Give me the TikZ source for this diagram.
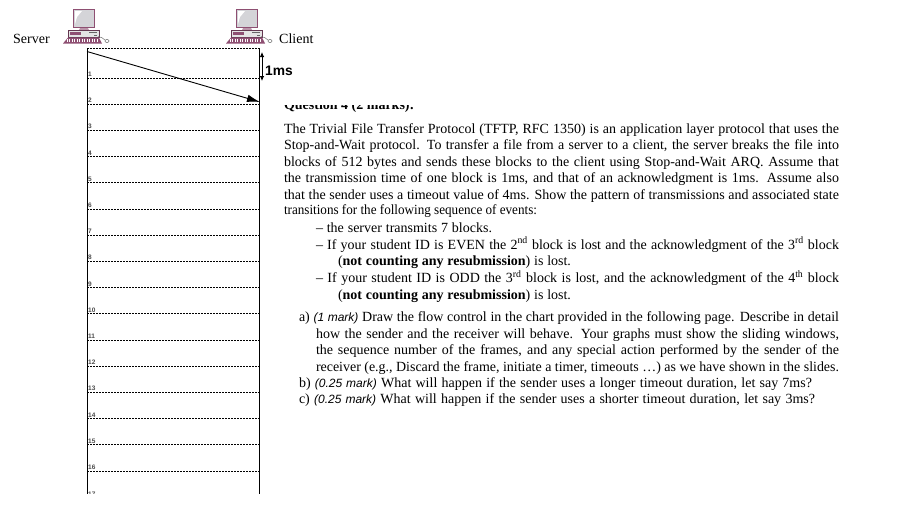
\documentclass[tikz,border=0pt]{standalone}
\usepackage{fontspec}
\setmainfont{Liberation Serif}
\setsansfont{Liberation Sans}
\usetikzlibrary{arrows.meta}
\definecolor{plum}{HTML}{8E4F72}
\definecolor{screen}{HTML}{D4D4D8}
\definecolor{casing}{HTML}{E4E4E4}
\tikzset{
  x=1pt,y=-1pt,
  body/.style={font=\fontsize{14}{16}\selectfont,anchor=base west,inner sep=0pt,outer sep=0pt},
  actor/.style={font=\fontsize{14}{16}\selectfont,anchor=base west,inner sep=0pt},
  tick/.style={font=\sffamily\bfseries\fontsize{6.5}{7}\selectfont,text=black!70,anchor=base west,inner sep=0pt},
  lifeline/.style={line width=0.9pt},
  gridline/.style={line width=0.8pt,dash pattern=on 1.7pt off 1.3pt},
  pics/pc/.style={code={
    \fill[plum] (0,0) -- (22,0) -- (22,19) -- (0,19) -- cycle;
    \fill[screen] (1.4,1.4) -- (20.6,1.4) -- (20.6,17.6) -- (1.4,17.6) -- cycle;
    \fill[white] (2,2) -- (9,2) -- (4,8) -- (2,15) -- cycle;
    \fill[plum!60] (7,19) -- (15,19) -- (16,21) -- (6,21) -- cycle;
    \draw[plum!70!black,fill=casing,line width=0.4pt] (-5,21) -- (26,21) -- (26,28.5) -- (-5,28.5) -- cycle;
    \fill[plum] (-3,23) -- (8,23) -- (8,25.5) -- (-3,25.5) -- cycle;
    \fill[black!60] (16,23) -- (24,23) -- (24,24) -- (16,24) -- cycle;
    \fill[black!60] (21,26) -- (24,26) -- (24,27) -- (21,27) -- cycle;
    \fill[plum] (-10,34.5) -- (-5,28.5) -- (26,28.5) -- (29,34.5) -- cycle;
    \foreach \k in {-6,-3.5,...,25}{\draw[white,line width=0.35pt] (\k,29.5) -- (\k,33);}
    \draw[black!55,line width=0.5pt] (25,27.5) .. controls (28,28) and (30,29) .. (32,31);
    \draw[black!60,fill=white,line width=0.5pt] (34,32) ellipse (2 and 1.5);
  }}
}
\newsavebox{\linebox}
% line of a fixed width: spaces stretch when it is short, glyphs narrow when it is long
\newcommand{\jline}[5]{\node[body] (#1) at (#2,#3) {\sbox{\linebox}{#5}\ifdim\wd\linebox>#4pt\resizebox{#4pt}{\ht\linebox}{\usebox{\linebox}}\else\makebox[#4pt][s]{#5}\fi};}
\newcommand{\mk}[1]{{\sffamily\itshape\fontsize{12}{14}\selectfont #1}}
\begin{document}
\begin{tikzpicture}
\useasboundingbox (0,0) rectangle (900,504);
\fill[white] (0,0) rectangle (900,504);
% computers
\pic at (73,9) {pc};
\pic at (236,9) {pc};
\node[actor] (server) at (13,43.5) {Server};
\node[actor] (client) at (279,43.5) {Client};
% lifelines
\coordinate (ltop) at (87,48);
\coordinate (rtop) at (259,48);
\coordinate (lbot) at (87,494);
\coordinate (rbot) at (259,494);
\draw[lifeline] (ltop) -- (lbot);
\draw[lifeline] (rtop) -- (rbot);
\draw[gridline] (ltop) -- (rtop);
% grid
\foreach \n in {1,...,16}{
  \pgfmathsetmacro{\yy}{78+(\n-1)*26.2}
  \coordinate (gl\n) at (87,\yy);
  \coordinate (gr\n) at (259,\yy);
  \draw[gridline] (gl\n) -- (gr\n);
  \node[tick] (t\n) at (88,\yy-1.5) {\n};
}
\node[tick] (t17) at (88,496.5) {17};
\fill[white] (60,494) rectangle (300,504);
% message
\coordinate (msgs) at (87,51.5);
\coordinate (msge) at (260,102);
\draw[line width=0.9pt,-{Latex[length=13pt,width=7.5pt]}] (msgs) -- (msge);
% 1ms
\coordinate (da) at (262,52);
\coordinate (db) at (262,81);
\draw[line width=0.8pt,{Latex[length=5pt,width=4.5pt]}-{Latex[length=5pt,width=4.5pt]}] (da) -- (db);
\node[font=\sffamily\bfseries\fontsize{13.8}{15}\selectfont,anchor=base west,inner sep=0pt] (onems) at (265,75) {1ms};
% clipped heading
\begin{scope}
\clip (280,105) rectangle (440,113);
\node[body] (head) at (284,109) {\textbf{Question 4 (2 marks):}};
\end{scope}
% body
\jline{l1}{284}{133.5}{555}{The Trivial File Transfer Protocol (TFTP, RFC 1350) is an application layer protocol that uses the}
\jline{l2}{284}{149.5}{555}{Stop-and-Wait protocol. To transfer a file from a server to a client, the server breaks the file into}
\jline{l3}{284}{166}{555}{blocks of 512 bytes and sends these blocks to the client using Stop-and-Wait ARQ.  Assume that}
\jline{l4}{284}{182.5}{555}{the transmission time of one block is 1ms, and that of an acknowledgment is 1ms. Assume also}
\jline{l5}{284}{199}{555}{that the sender uses a timeout value of 4ms. Show the pattern of transmissions and associated state}
\jline{l6}{284}{214.5}{253}{transitions for the following sequence of events:}
\jline{l7}{316}{232}{176}{– the server transmits 7 blocks.}
\jline{l8}{316}{249}{523}{– If your student ID is EVEN the 2\textsuperscript{nd} block is lost and the acknowledgment of the 3\textsuperscript{rd}  block}
\jline{l9}{338}{265.5}{233}{(\textbf{not counting any resubmission}) is lost.}
\jline{l10}{316}{282.8}{523}{– If your student ID is ODD the 3\textsuperscript{rd} block is lost, and the acknowledgment of the 4\textsuperscript{th}  block}
\jline{l11}{338}{299}{233}{(\textbf{not counting any resubmission}) is lost.}
\jline{l12}{299}{321.5}{540}{a) \mk{(1 mark)} Draw the flow control in the chart provided in the following page. Describe in detail}
\jline{l13}{316}{338.5}{523}{how the sender and the receiver will behave. Your graphs must show the sliding windows,}
\jline{l14}{316}{354.5}{523}{the sequence number of the frames, and any special action performed by the sender of the}
\jline{l15}{316}{371}{523}{receiver (e.g., Discard the frame, initiate a timer, timeouts …) as we have shown in the slides.}
\jline{l16}{299}{387}{513}{b) \mk{(0.25 mark)} What will happen if the sender uses a longer timeout duration, let say 7ms?}
\jline{l17}{299}{403.5}{516}{c) \mk{(0.25 mark)} What will happen if the sender uses a shorter timeout duration, let say 3ms?}
\end{tikzpicture}
\end{document}
